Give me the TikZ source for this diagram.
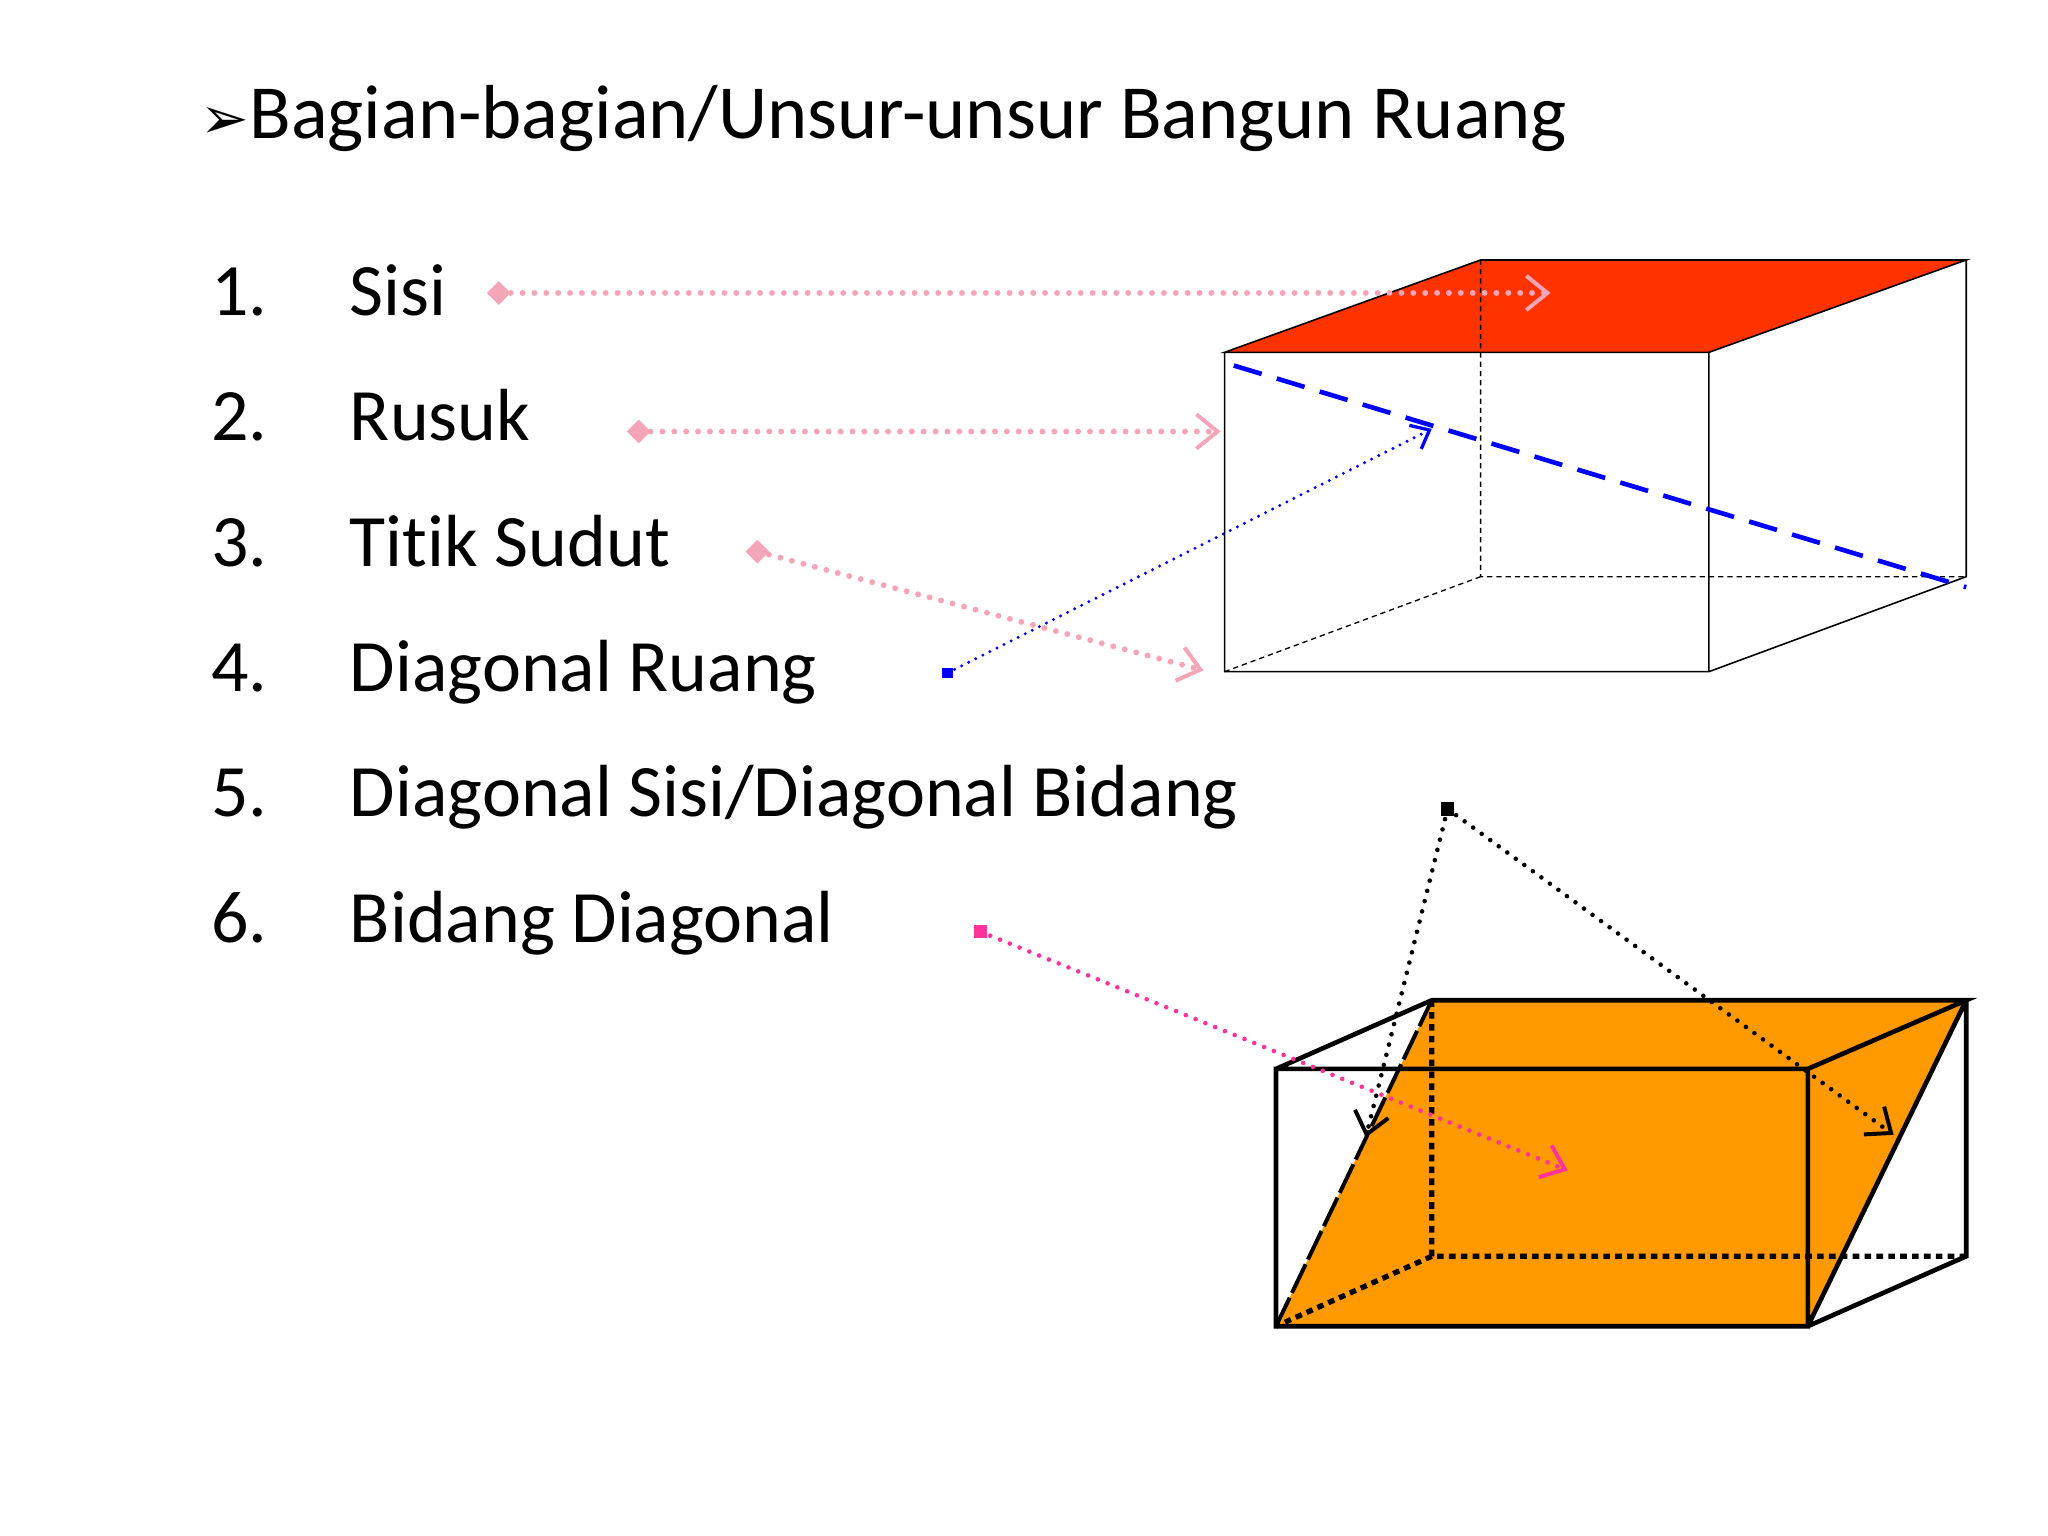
\documentclass[tikz,border=0pt]{standalone}
\usepackage{fontspec}
\setmainfont{Carlito}[Ligatures={NoCommon}]
\newfontfamily\symf{DejaVu Sans}
\usetikzlibrary{arrows.meta}
\definecolor{pinkL}{HTML}{F4A6B8}
\definecolor{magL}{HTML}{FF3399}
\definecolor{redF}{HTML}{FF3300}
\definecolor{orF}{HTML}{FF9900}
\begin{document}
\begin{tikzpicture}[x=1pt,y=-1pt,
  lbl/.style={anchor=base west,inner sep=0,font=\fontsize{56}{60}\selectfont},
  ptr/.style={line width=4.5pt,line cap=round,dash pattern=on 0pt off 9pt},
  hd/.style={-{Straight Barb[length=16pt,width=26pt,line width=3pt]}},
  thick3/.style={line width=3.5pt},
  hid/.style={line width=4pt,dash pattern=on 5pt off 4pt}]
\useasboundingbox (0,0) rectangle (1552,1164);
\node[anchor=base west,inner sep=0,font=\fontsize{58}{60}\selectfont] (title) at (152,105) {{\symf\fontsize{44}{44}\selectfont ➢}Bagian-bagian/Unsur-unsur Bangun Ruang};
\foreach \i/\t [count=\k] in {1/Sisi,2/Rusuk,3/Titik Sudut,4/Diagonal Ruang,5/{Diagonal Sisi/Diagonal Bidang},6/Bidang Diagonal}{
  \node[lbl] (n\k) at (160,{220+95*(\k-1)+19}) {\i.};
  \node[lbl] (t\k) at (265,{220+95*(\k-1)+19}) {\t};
}
% top box
\coordinate (A) at (928,267); \coordinate (B) at (1295,267);
\coordinate (C) at (1295,509); \coordinate (D) at (928,509);
\coordinate (E) at (1122,197); \coordinate (F) at (1490,197);
\coordinate (G) at (1490,437); \coordinate (H) at (1122,437);
\fill[redF] (A)--(E)--(F)--(B)--cycle;
\draw[line width=1.2pt] (A)--(E)--(F)--(B)--cycle (A)--(D)--(C)--(B) (F)--(G)--(C);
\draw[line width=1pt,dash pattern=on 4pt off 3pt] (E)--(H)--(G) (H)--(D);
\draw[blue,line width=3.5pt,dash pattern=on 22pt off 12pt] (935,277)--(1490,445);
% pointers top
\coordinate (s1) at (378,222); \coordinate (e1) at (1175,222);
\coordinate (s2) at (484,327); \coordinate (e2) at (925,327);
\coordinate (s3) at (574,418); \coordinate (e3) at (912,508);
\coordinate (s4) at (718,510); \coordinate (e4) at (1085,325);
\foreach \s in {s1,s2,s3}{\fill[pinkL] (\s) +(-9,0)--+(0,-9)--+(9,0)--+(0,9)--cycle;}
\draw[pinkL,ptr,hd] (s1)--(e1);
\draw[pinkL,ptr,hd] (s2)--(e2);
\draw[pinkL,ptr,hd] (s3)--(e3);
\fill[blue] (s4) +(-4,-4) rectangle +(4,4);
\draw[blue,line width=2.5pt,line cap=round,dash pattern=on 0pt off 6pt,-{Straight Barb[length=12pt,width=20pt,line width=2.5pt]}] (s4)--(e4);
% bottom box
\coordinate (P) at (967,810); \coordinate (Q) at (1370,810);
\coordinate (R) at (1370,1005); \coordinate (S) at (967,1005);
\coordinate (T) at (1085,758); \coordinate (U) at (1490,758);
\coordinate (V) at (1490,952); \coordinate (W) at (1085,952);
\fill[orF] (S)--(T)--(U)--(R)--cycle;
\draw[hid] (T)--(W)--(V) (W)--(S);
\draw[thick3] (P)--(Q)--(R)--(S)--cycle (P)--(T)--(U)--(Q) (U)--(V)--(R) (R)--(U);
\draw[line width=3pt,dash pattern=on 24pt off 4pt] (S)--(T);
% pointers bottom
\coordinate (s5) at (1097,613); \coordinate (e5a) at (1035,862); \coordinate (e5b) at (1435,860);
\coordinate (s6) at (743,706); \coordinate (e6) at (1188,887);
\fill[black] (s5) +(-5,-5) rectangle +(5,5);
\draw[line width=3.5pt,line cap=round,dash pattern=on 0pt off 8pt,hd] (s5)--(e5a);
\draw[line width=3.5pt,line cap=round,dash pattern=on 0pt off 8pt,hd] (s5)--(e5b);
\fill[magL] (s6) +(-5,-5) rectangle +(5,5);
\draw[magL,line width=3.5pt,line cap=round,dash pattern=on 0pt off 8pt,hd] (s6)--(e6);
\end{tikzpicture}
\end{document}
